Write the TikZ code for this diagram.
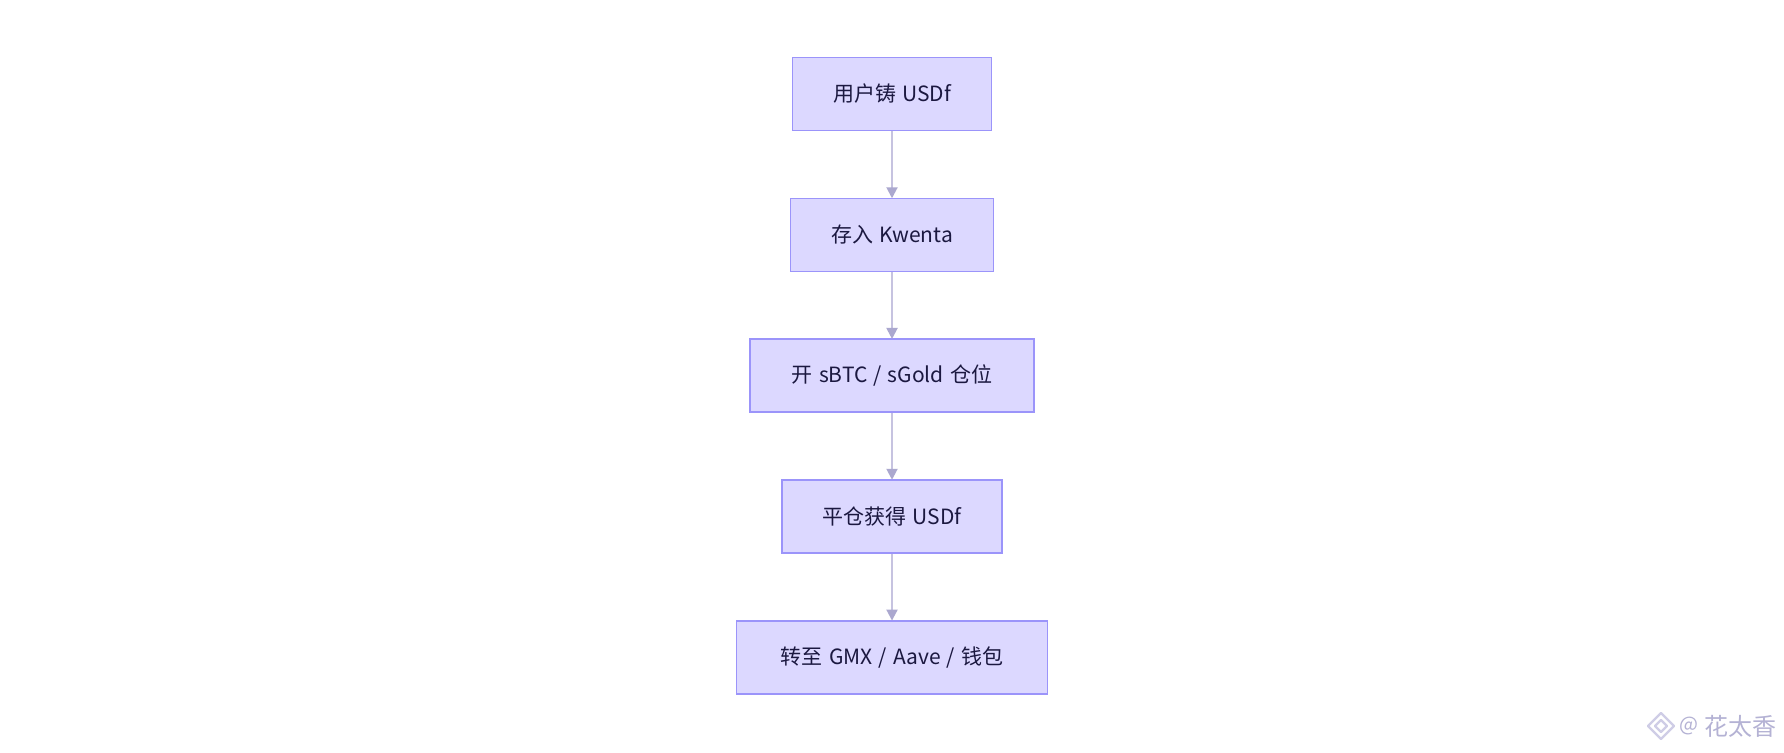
\documentclass[tikz,border=0pt]{standalone}
\usepackage{fontspec}
\usetikzlibrary{arrows.meta}
\setmainfont[WordSpace=1.3]{Noto Sans CJK SC}
\definecolor{boxfill}{HTML}{DCD8FF}
\definecolor{boxline}{HTML}{9B94FA}
\definecolor{linkline}{HTML}{C6C3E0}
\definecolor{tipfill}{HTML}{ABA8CF}
\definecolor{inktext}{HTML}{1B1840}
\definecolor{markink}{HTML}{CFCDE6}
\definecolor{markdark}{HTML}{B4B2D4}
\tikzset{
  x=1pt,y=-1pt,
  flowbox/.style={draw=boxline,fill=boxfill,line width=1.5pt,minimum height=73pt,inner sep=0pt,
    text=inktext,font=\fontsize{21}{25}\selectfont,anchor=center},
  flowlink/.style={draw=linkline,line width=2pt,-{Triangle[length=11pt,width=11pt,color=tipfill]},shorten >=-0.5pt},
  marktext/.style={text=markdark,font=\fontsize{24}{28}\selectfont,inner sep=0pt,anchor=west},
  markshape/.style={draw=markink,line width=2.4pt,fill=white,line join=round}
}
\begin{document}
\begin{tikzpicture}
\useasboundingbox (0,0) rectangle (1784,752);
\fill[white] (0,0) rectangle (1784,752);
\node[flowbox,minimum width=199pt] (a) at (892,94) {用户铸 USDf};
\node[flowbox,minimum width=203pt] (b) at (892,235) {存入 Kwenta};
\node[flowbox,minimum width=284pt] (c) at (892,375.7) {开 sBTC / sGold 仓位};
\node[flowbox,minimum width=220pt] (d) at (892,516.5) {平仓获得 USDf};
\node[flowbox,minimum width=311pt] (e) at (892,657.3) {转至 GMX / Aave / 钱包};
\draw[flowlink] (a) -- (b);
\draw[flowlink] (b) -- (c);
\draw[flowlink] (c) -- (d);
\draw[flowlink] (d) -- (e);
% watermark logo
\draw[markshape] (1661,713) -- (1674,726) -- (1661,739) -- (1648,726) -- cycle;
\draw[markshape] (1661,720) -- (1667,726) -- (1661,732) -- (1655,726) -- cycle;
\node[marktext,font=\fontsize{20}{24}\selectfont] (m) at (1679,726) {@};
\node[marktext] (w) at (1704,726) {花太香};
\end{tikzpicture}
\end{document}
